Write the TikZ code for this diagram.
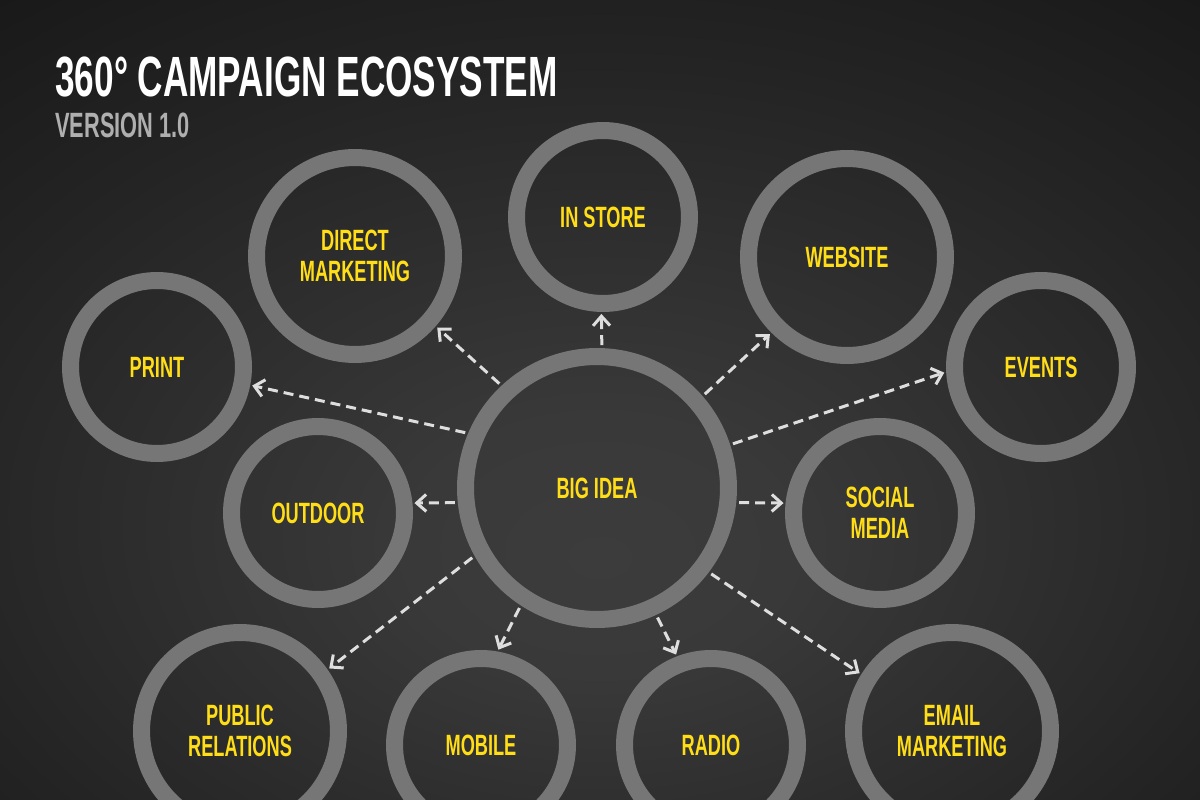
\documentclass[tikz,border=0pt]{standalone}
\usepackage{fontspec}
\usetikzlibrary{arrows.meta}
\newfontfamily\cond[FakeStretch=0.62]{Liberation Sans}
\definecolor{ringgray}{RGB}{118,118,118}
\definecolor{labelyellow}{RGB}{255,222,23}
\definecolor{arrowwhite}{RGB}{222,222,222}
\definecolor{versiongray}{RGB}{175,175,175}
\pgfdeclareradialshading{bgshade}{\pgfpoint{0bp}{-10bp}}{%
  color(0bp)=(rgb,255:red,60;green,60;blue,60);
  color(8bp)=(rgb,255:red,57;green,57;blue,57);
  color(28bp)=(rgb,255:red,36;green,36;blue,36);
  color(45bp)=(rgb,255:red,20;green,20;blue,20);
  color(60bp)=(rgb,255:red,11;green,11;blue,11);
  color(90bp)=(rgb,255:red,6;green,6;blue,6)}
\begin{document}
\begin{tikzpicture}[x=0.02cm,y=-0.02cm,
  ring/.style={circle,draw=ringgray,line width=0.34cm,inner sep=0pt,
    text=labelyellow,align=center,
    font=\cond\bfseries\fontsize{16.7}{17.6}\selectfont},
  smallring/.style={ring,minimum size=3.46cm},
  midring/.style={ring,minimum size=3.94cm},
  bigring/.style={ring,minimum size=5.26cm},
  arr/.style={draw=arrowwhite,line width=0.06cm,dash pattern=on 0.2cm off 0.12cm,
    -{Straight Barb[length=0.19cm,width=0.34cm]},
    shorten <=0.06cm, shorten >=0.04cm},
  titletext/.style={anchor=base west,inner sep=0pt,text=white,
    font=\cond\bfseries\fontsize{32.3}{34}\selectfont},
  versiontext/.style={anchor=base west,inner sep=0pt,text=versiongray,
    font=\cond\bfseries\fontsize{20}{22}\selectfont}]
\useasboundingbox (0,0) rectangle (1200,800);
\path[shading=bgshade] (0,0) rectangle (1200,800);

\node[titletext] (title) at (55,97) {360° CAMPAIGN ECOSYSTEM};
\node[versiontext] (version) at (55,138) {VERSION 1.0};

\node[bigring] (big) at (597,488) {BIG IDEA};
\node[smallring] (instore) at (603,217) {IN STORE};
\node[midring] (dm) at (355,256) {DIRECT\\MARKETING};
\node[midring] (web) at (847,257) {WEBSITE};
\node[smallring] (print) at (157,367) {PRINT};
\node[smallring] (events) at (1041,367) {EVENTS};
\node[smallring] (outdoor) at (318,513) {OUTDOOR};
\node[smallring] (social) at (880,513) {SOCIAL\\MEDIA};
\node[midring] (pr) at (240,731) {PUBLIC\\RELATIONS};
\node[smallring] (mobile) at (481,745) {MOBILE};
\node[smallring] (radio) at (711,745) {RADIO};
\node[midring] (email) at (952,731) {EMAIL\\MARKETING};

\draw[arr] (big.88) -- (instore.-91);
\draw[arr] (big.133) -- (dm.-41);
\draw[arr] (big.41) -- (web.225);
\draw[arr] (big.157) -- (print.-11);
\draw[arr] (big.18) -- (events.183);
\draw[arr] (big.186) -- (outdoor.6);
\draw[arr] (big.-6) -- (social.174);
\draw[arr] (big.209) -- (pr.35);
\draw[arr] (big.237) -- (mobile.80);
\draw[arr] (big.-65) -- (radio.111);
\draw[arr] (big.-37) -- (email.148);
\end{tikzpicture}
\end{document}
